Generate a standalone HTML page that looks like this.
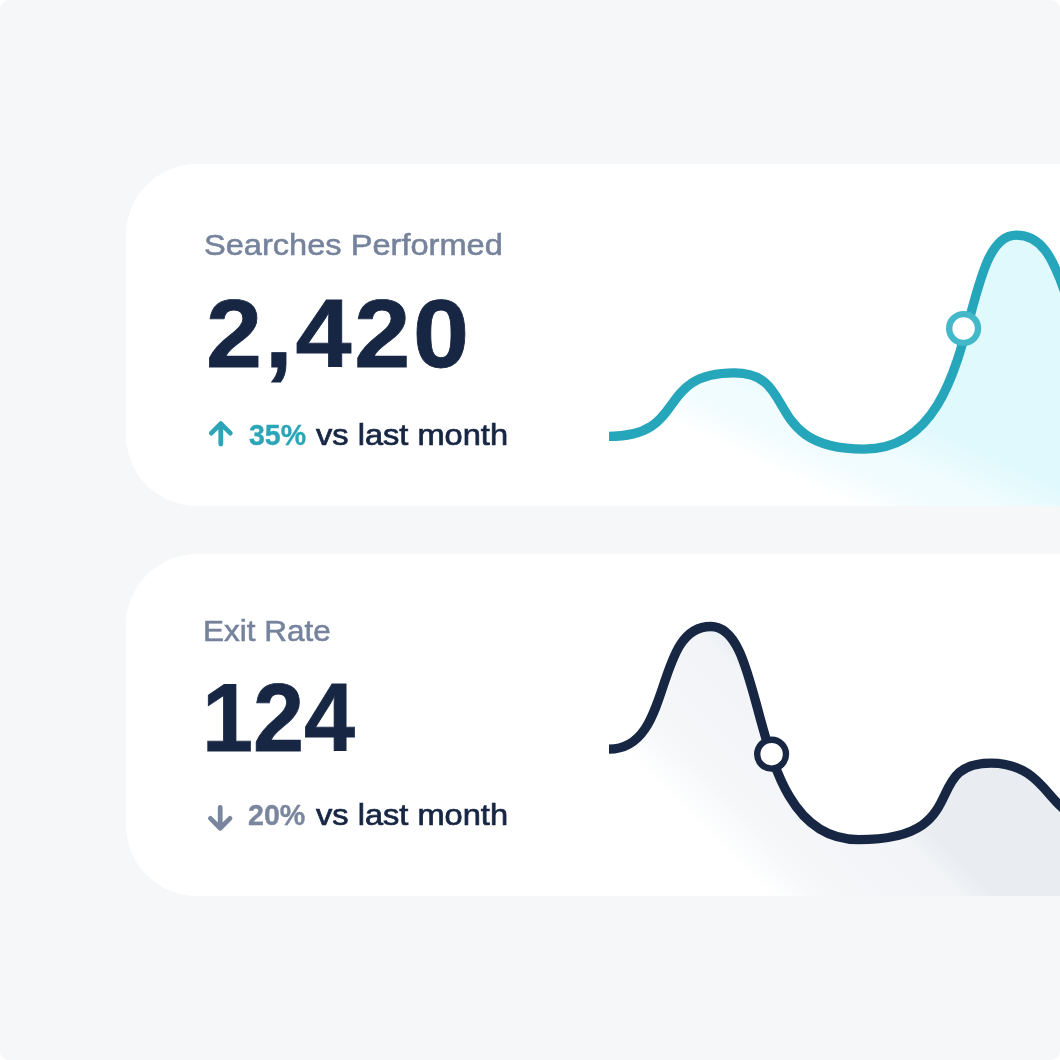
<!DOCTYPE html>
<html lang="en">
<head>
<meta charset="utf-8">
<title>Search analytics</title>
<style>
  html, body { margin: 0; padding: 0; }
  html { background: #ffffff; }
  body {
    width: 1060px; height: 1060px; overflow: hidden;
    background: #f5f7f9; border-radius: 9px;
    font-family: "Liberation Sans", sans-serif;
    position: relative;
  }
  .card {
    position: absolute; left: 126px; width: 1000px; height: 342px;
    background: #ffffff;
    border-radius: 71px 0 0 71px;
    overflow: hidden;
  }
  #c1 { top: 164px; }
  #c2 { top: 554px; }
  .label {
    position: absolute; left: 78px; top: 64px;
    font-size: 30px; line-height: 34px; color: #76839c;
    white-space: nowrap; transform-origin: 0 50%; transform: scaleX(1.086);
    -webkit-text-stroke: 0.55px #76839c;
  }
  .num {
    position: absolute; left: 78px; top: 118px;
    font-size: 96px; line-height: 100px; font-weight: 700; color: #172643;
    white-space: nowrap; transform-origin: 0 50%;
  }
  .delta {
    position: absolute; left: 78px; top: 254px;
    font-size: 29px; line-height: 34px; color: #172643;
    white-space: nowrap;
  }
  .delta b { font-weight: 700; font-size: 30px; -webkit-text-stroke: 0.35px currentColor; }
  .delta span { -webkit-text-stroke: 0.7px #172643; }
  .up b { color: #2ba5b7; }
  .down b { color: #7a869d; }
  .delta span, .delta b { position: absolute; top: 0; transform-origin: 0 50%; }
  .arrow { position: absolute; }
  svg.chart { position: absolute; left: 0; top: 0; }
</style>
</head>
<body>

<div class="card" id="c1">
  <svg class="chart" width="934" height="342" viewBox="126 164 934 342">
    <defs>
      <linearGradient id="g1" gradientUnits="userSpaceOnUse" x1="932.2" y1="419" x2="883" y2="528.4">
        <stop offset="0" stop-color="#e0f9fd"/>
        <stop offset="0.08" stop-color="#e0f9fd"/>
        <stop offset="0.42" stop-color="#f0fcfe"/>
        <stop offset="0.62" stop-color="#f0fcfe"/>
        <stop offset="0.92" stop-color="#ffffff"/>
      </linearGradient>
    </defs>
    <path id="f1" fill="url(#g1)" d="M609,436.4 C689,436.4 654,372.9 734.3,372.9 C799.4,372.9 761,449.1 864,449.1 C984,449.1 957,235.2 1016.3,235.2 C1043,235.2 1053,262 1060,279 L1075,320 L1080,520 L609,520 Z"/>
    <path id="l1" fill="none" stroke="#26a6ba" stroke-width="9.3" d="M609,436.4 C689,436.4 654,372.9 734.3,372.9 C799.4,372.9 761,449.1 864,449.1 C984,449.1 957,235.2 1016.3,235.2 C1043,235.2 1053,262 1060,279 L1075,320"/>
    <circle cx="963.6" cy="328.5" r="14.4" fill="#ffffff" stroke="#43b8c9" stroke-width="6.4"/>
  </svg>
  <div class="label" style="left:78px;top:64px">Searches Performed</div>
  <div class="num" style="left:80.4px;top:119.5px;letter-spacing:2.6px;transform:scaleX(1.05);-webkit-text-stroke:0.8px #172643">2,420</div>
  <svg class="arrow" width="30" height="32" viewBox="206 418 30 32" style="left:80px;top:254px"><path d="M220.8,444 V423.6 M211.3,433.1 L220.8,423.6 L230.3,433.1" fill="none" stroke="#2ba5b7" stroke-width="4.8" stroke-linecap="round" stroke-linejoin="round"/></svg>
  <div class="delta up" style="top:254px">
    <b style="left:44.6px;transform:scaleX(0.95)">35%</b><span style="left:111.6px;transform:scaleX(1.124)">vs last month</span>
  </div>
</div>

<div class="card" id="c2">
  <svg class="chart" width="934" height="342" viewBox="126 554 934 342">
    <defs>
      <linearGradient id="g2" gradientUnits="userSpaceOnUse" x1="950" y1="836.8" x2="829.8" y2="957">
        <stop offset="0" stop-color="#e9edf1"/>
        <stop offset="0.06" stop-color="#e9edf1"/>
        <stop offset="0.2" stop-color="#f2f4f7"/>
        <stop offset="0.75" stop-color="#f5f7f9"/>
        <stop offset="1" stop-color="#ffffff"/>
      </linearGradient>
    </defs>
    <path id="f2" fill="url(#g2)" d="M609,749.2 C674,749.2 653,626.5 710.8,626.5 C770,626.5 745,839.7 858.5,839.7 C974.6,839.7 919.8,763.1 991,763.1 C1031.9,763.1 1044.5,791.5 1060,805.6 L1080,823.8 L1080,910 L609,910 Z"/>
    <path id="l2" fill="none" stroke="#172643" stroke-width="9.3" d="M609,749.2 C674,749.2 653,626.5 710.8,626.5 C770,626.5 745,839.7 858.5,839.7 C974.6,839.7 919.8,763.1 991,763.1 C1031.9,763.1 1044.5,791.5 1060,805.6 L1080,823.8"/>
    <circle cx="771.6" cy="754.2" r="14.4" fill="#ffffff" stroke="#172643" stroke-width="6.4"/>
  </svg>
  <div class="label" style="left:77.2px;top:60px;transform:scaleX(1.05)">Exit Rate</div>
  <div class="num" style="left:76.4px;top:113.8px;transform:scaleX(0.955);-webkit-text-stroke:0.8px #172643">124</div>
  <svg class="arrow" width="30" height="32" viewBox="206 802 30 32" style="left:80px;top:248px"><path d="M220.2,807.5 V828.2 M210.4,818.4 L220.2,828.2 L230,818.4" fill="none" stroke="#7a869d" stroke-width="4.8" stroke-linecap="round" stroke-linejoin="round"/></svg>
  <div class="delta down" style="top:244px">
    <b style="left:44px;transform:scaleX(0.955)">20%</b><span style="left:111.6px;transform:scaleX(1.124)">vs last month</span>
  </div>
</div>

</body>
</html>
